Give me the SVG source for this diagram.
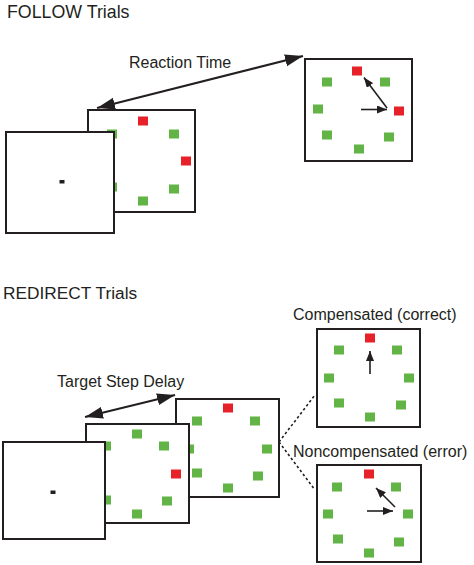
<svg xmlns="http://www.w3.org/2000/svg" width="474" height="565" viewBox="0 0 474 565">
<style>
.scr{fill:#fff;stroke:#231f20;stroke-width:2}
.g{fill:#62b446}
.r{fill:#e62129}
.dot{fill:#231f20}
.t{font-family:"Liberation Sans",Arial,sans-serif;fill:#231f20}
.big{stroke:#231f20;stroke-width:2;fill:none}
.small{stroke:#231f20;stroke-width:1.6;fill:none}
.dash{stroke:#231f20;stroke-width:1.6;stroke-dasharray:2.5 2.5;fill:none}
</style>
<defs>
<marker id="hb" markerUnits="userSpaceOnUse" markerWidth="19" markerHeight="13" refX="18" refY="6.5" orient="auto-start-reverse" viewBox="0 0 19 13">
<path d="M0,0.5 L18,6.5 L0,12.5 z" fill="#231f20"/>
</marker>
<marker id="hs" markerUnits="userSpaceOnUse" markerWidth="11" markerHeight="8" refX="10" refY="4" orient="auto" viewBox="0 0 11 8">
<path d="M0,0 L10,4 L0,8 z" fill="#231f20"/>
</marker>
</defs>

<text class="t" x="7" y="17.5" font-size="17.8">FOLLOW Trials</text>
<text class="t" x="3" y="299" font-size="17.3">REDIRECT Trials</text>

<!-- FOLLOW trials -->
<g id="follow-response">
<rect class="scr" x="305" y="59" width="107" height="102"/>
<rect class="r" x="352" y="66.5" width="10" height="9"/>
<rect class="g" x="322" y="77.5" width="10" height="9"/>
<rect class="g" x="380" y="77.5" width="10" height="9"/>
<rect class="g" x="313" y="104.5" width="10" height="9"/>
<rect class="r" x="394" y="106.5" width="10" height="9"/>
<rect class="g" x="322" y="130.5" width="10" height="9"/>
<rect class="g" x="384" y="132.5" width="10" height="9"/>
<rect class="g" x="354" y="144.5" width="10" height="9"/>
<line class="small" x1="361" y1="109.5" x2="387" y2="109.5" marker-end="url(#hs)"/>
<line class="small" x1="387" y1="108" x2="364" y2="77.5" marker-end="url(#hs)"/>
</g>
<g id="follow-targets">
<rect class="scr" x="88" y="110" width="107" height="102"/>
<rect class="r" x="138" y="116.5" width="10" height="9"/>
<rect class="g" x="169" y="129.5" width="10" height="9"/>
<rect class="r" x="181" y="156.5" width="10" height="9"/>
<rect class="g" x="169" y="184.5" width="10" height="9"/>
<rect class="g" x="138" y="196.5" width="10" height="9"/>
<rect class="g" x="107" y="182.5" width="10" height="9"/>
<rect class="g" x="107" y="129.5" width="10" height="9"/>
</g>
<g id="follow-fixation">
<rect class="scr" x="6" y="132" width="108" height="101"/>
<rect class="dot" x="59.5" y="180" width="5" height="3.5"/>
</g>

<!-- REDIRECT trials -->
<g id="redirect-step">
<rect class="scr" x="176" y="399" width="103" height="98"/>
<rect class="r" x="223" y="403.5" width="10" height="9"/>
<rect class="g" x="192" y="416.5" width="10" height="9"/>
<rect class="g" x="250" y="416.5" width="10" height="9"/>
<rect class="g" x="262" y="444.5" width="10" height="9"/>
<rect class="g" x="184" y="444.5" width="10" height="9"/>
<rect class="g" x="192" y="468.5" width="10" height="9"/>
<rect class="g" x="253" y="471.5" width="10" height="9"/>
<rect class="g" x="223" y="483.5" width="10" height="9"/>
</g>
<g id="redirect-targets">
<rect class="scr" x="86" y="424" width="103" height="99"/>
<rect class="g" x="132" y="429.5" width="10" height="9"/>
<rect class="g" x="159" y="441.5" width="10" height="9"/>
<rect class="r" x="171" y="469.5" width="10" height="9"/>
<rect class="g" x="162" y="496.5" width="10" height="9"/>
<rect class="g" x="132" y="509.5" width="10" height="9"/>
<rect class="g" x="101" y="495.5" width="10" height="9"/>
<rect class="g" x="101" y="441.5" width="10" height="9"/>
</g>
<g id="redirect-fixation">
<rect class="scr" x="3" y="442" width="102" height="97"/>
<rect class="dot" x="50.5" y="490.5" width="5" height="3.5"/>
</g>
<g id="compensated">
<rect class="scr" x="317" y="329" width="103" height="98"/>
<rect class="r" x="365" y="333.5" width="10" height="9"/>
<rect class="g" x="334" y="345.5" width="10" height="9"/>
<rect class="g" x="392" y="345.5" width="10" height="9"/>
<rect class="g" x="324" y="373.5" width="10" height="9"/>
<rect class="g" x="404" y="373.5" width="10" height="9"/>
<rect class="g" x="334" y="398.5" width="10" height="9"/>
<rect class="g" x="396" y="400.5" width="10" height="9"/>
<rect class="g" x="365" y="412.5" width="10" height="9"/>
<line class="small" x1="370" y1="374" x2="370" y2="351" marker-end="url(#hs)"/>
<text class="t" x="293" y="320" font-size="16">Compensated (correct)</text>
</g>
<g id="noncompensated">
<rect class="scr" x="317" y="465" width="104" height="97"/>
<rect class="r" x="364" y="469.5" width="10" height="9"/>
<rect class="g" x="332" y="482.5" width="10" height="9"/>
<rect class="g" x="391" y="482.5" width="10" height="9"/>
<rect class="g" x="323" y="509.5" width="10" height="9"/>
<rect class="g" x="403" y="509.5" width="10" height="9"/>
<rect class="g" x="333" y="534.5" width="10" height="9"/>
<rect class="g" x="394" y="537.5" width="10" height="9"/>
<rect class="g" x="364" y="548.5" width="10" height="9"/>
<line class="small" x1="367" y1="511" x2="393" y2="511" marker-end="url(#hs)"/>
<line class="small" x1="395" y1="507" x2="376" y2="488" marker-end="url(#hs)"/>
<text class="t" x="293" y="457" font-size="16">Noncompensated (error)</text>
</g>

<g id="connectors">
<line class="big" x1="97" y1="108" x2="303" y2="56" marker-start="url(#hb)" marker-end="url(#hb)"/>
<text class="t" x="129" y="68" font-size="16">Reaction Time</text>
<line class="big" x1="85" y1="417" x2="175" y2="395" marker-start="url(#hb)" marker-end="url(#hb)"/>
<text class="t" x="57" y="387" font-size="16">Target Step Delay</text>
<line class="dash" x1="279" y1="442" x2="315" y2="395"/>
<line class="dash" x1="279" y1="442" x2="315" y2="490"/>
</g>
</svg>
